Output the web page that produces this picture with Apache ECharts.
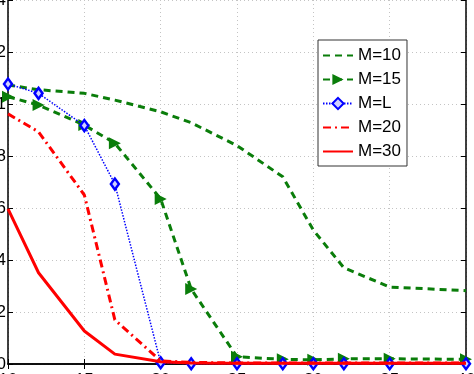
<!DOCTYPE html>
<html><head><meta charset="utf-8">
<script src="https://cdn.jsdelivr.net/npm/echarts@6/dist/echarts.min.js"></script>
<style>html,body{margin:0;padding:0;background:#fff}#c{width:474px;height:374px}</style>
</head><body><div id="c"></div>
<script>
var xValues = [10, 12, 15, 17, 20, 22, 25, 28, 30, 32, 35, 40];
var m10 = [1.073, 1.055, 1.041, 1.015, 0.970, 0.928, 0.840, 0.720, 0.515, 0.370, 0.296, 0.282];
var m15 = [1.028, 0.996, 0.919, 0.849, 0.635, 0.288, 0.028, 0.018, 0.016, 0.020, 0.020, 0.018];
var mL  = [1.077, 1.041, 0.917, 0.692, 0.005, 0.001, 0.001, 0.001, 0.001, 0.001, 0.001, 0.001];
var m20 = [0.962, 0.893, 0.650, 0.170, 0.012, 0.006, 0.004, 0.004, 0.004, 0.004, 0.004, 0.004];
var m30 = [0.597, 0.351, 0.127, 0.038, 0.009, 0.004, 0.003, 0.003, 0.003, 0.003, 0.003, 0.003];
var names = ['M=10', 'M=15', 'M=L', 'M=20', 'M=30'];
var xTicks = [10, 15, 20, 25, 30, 35, 40];
var yTicks = [0, 0.2, 0.4, 0.6, 0.8, 1, 1.2, 1.4];

function pairs(ys) { return xValues.map(function (x, i) { return [x, ys[i]]; }); }
var green = '#0a7d0a', blue = '#0000ff', red = '#ff0000';
var font = 'Liberation Sans, Arial, sans-serif';
var split = { show: true, lineStyle: { color: '#c4c4c4', type: [1, 3], width: 1 } };
var axLine = { show: true, lineStyle: { color: '#000', width: 1.5 } };
var hideSym = { opacity: 0 };

var chart = echarts.init(document.getElementById('c'), null, { renderer: 'canvas' });
chart.setOption({
  animation: false,
  backgroundColor: '#fff',
  grid: { left: 8, right: 8, top: 0, bottom: 10, containLabel: false, outerBoundsMode: 'none' },
  xAxis: [{
    type: 'value', min: xTicks[0], max: xTicks[xTicks.length - 1], interval: 5,
    axisLine: axLine, axisTick: { inside: true, length: 5, lineStyle: { color: '#000' } },
    axisLabel: { margin: 8, fontSize: 17, color: '#000', fontFamily: font, showMinLabel: true, showMaxLabel: true, hideOverlap: false },
    splitLine: split
  }, {
    type: 'value', position: 'top', min: xTicks[0], max: xTicks[xTicks.length - 1], interval: 5,
    axisLine: axLine, axisTick: { inside: true, length: 5, lineStyle: { color: '#000' } },
    axisLabel: { show: false }, splitLine: { show: false }
  }],
  yAxis: [{
    type: 'value', min: yTicks[0], max: yTicks[yTicks.length - 1], interval: 0.2,
    axisLine: axLine, axisTick: { inside: true, length: 5, lineStyle: { color: '#000' } },
    axisLabel: { margin: 2, fontSize: 17, color: '#000', fontFamily: font, showMinLabel: true, showMaxLabel: true,
      formatter: function (v) { return String(Math.round(v * 10) / 10); } },
    splitLine: split
  }, {
    type: 'value', position: 'right', min: yTicks[0], max: yTicks[yTicks.length - 1], interval: 0.2,
    axisLine: axLine, axisTick: { inside: true, length: 5, lineStyle: { color: '#000' } },
    axisLabel: { show: false }, splitLine: { show: false }
  }],
  legend: {
    orient: 'vertical', left: 318, top: 40,
    padding: [7, 6, 6, 4],
    itemWidth: 30, itemHeight: 14, itemGap: 7,
    backgroundColor: '#fff', borderColor: '#333', borderWidth: 1,
    textStyle: { fontSize: 17, lineHeight: 17, color: '#000', fontFamily: font },
    data: [
      { name: names[0], itemStyle: hideSym },
      { name: names[1] },
      { name: names[2] },
      { name: names[3], itemStyle: hideSym },
      { name: names[4], itemStyle: hideSym }
    ]
  },
  series: [{
    name: names[0], type: 'line', data: pairs(m10), symbol: 'circle', showSymbol: false,
    lineStyle: { color: green, width: 3, type: [7, 5] }, itemStyle: { color: green }, z: 2
  }, {
    name: names[1], type: 'line', data: pairs(m15), symbol: 'triangle', symbolSize: [12, 12], symbolRotate: -90,
    lineStyle: { color: green, width: 3, type: [7, 5] }, itemStyle: { color: green }, z: 3
  }, {
    name: names[2], type: 'line', data: pairs(mL), symbol: 'diamond', symbolSize: [8, 11],
    lineStyle: { color: blue, width: 1.5, type: [1.5, 1.5] },
    itemStyle: { color: '#d0d0ff', borderColor: blue, borderWidth: 2.5 }, z: 4
  }, {
    name: names[3], type: 'line', data: pairs(m20), symbol: 'circle', showSymbol: false,
    lineStyle: { color: red, width: 3, type: [8, 4, 2, 4] }, itemStyle: { color: red }, z: 5
  }, {
    name: names[4], type: 'line', data: pairs(m30), symbol: 'circle', showSymbol: false,
    lineStyle: { color: red, width: 3 }, itemStyle: { color: red }, z: 6
  }]
});
</script></body></html>
